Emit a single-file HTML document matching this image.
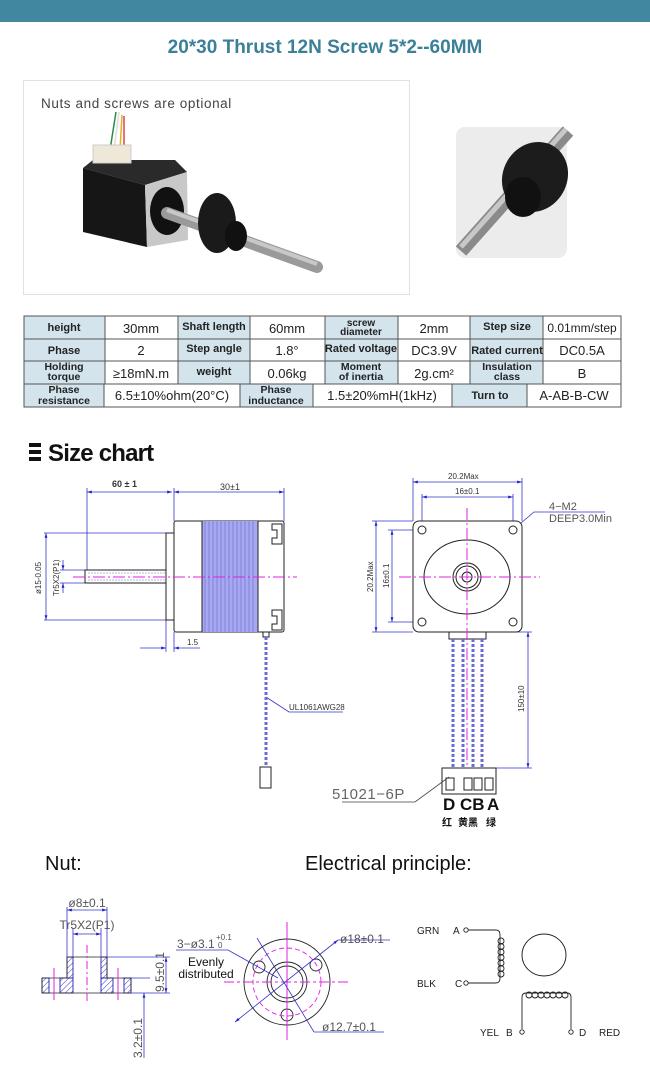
<!DOCTYPE html>
<html><head><meta charset="utf-8"><style>
html,body{margin:0;padding:0;background:#fff;}
svg{display:block;}
text{font-family:"Liberation Sans","Noto Sans CJK SC",sans-serif;}
</style></head><body>
<svg width="650" height="1087" viewBox="0 0 650 1087" xmlns="http://www.w3.org/2000/svg">
<defs>
<pattern id="hat" width="4" height="4" patternUnits="userSpaceOnUse" patternTransform="rotate(45)">
<line x1="0" y1="0" x2="0" y2="4" stroke="#3a3ad0" stroke-width="1"/>
</pattern>
<marker id="ar" viewBox="0 0 10 10" refX="10" refY="5" markerWidth="6" markerHeight="6" orient="auto-start-reverse"><path d="M0,2 L10,5 L0,8z" fill="#2222cc"/></marker>
</defs>
<rect x="0" y="0" width="650" height="22" fill="#41879f"/>
<text x="325" y="53" text-anchor="middle" font-size="19" font-weight="bold" fill="#3b7f98">20*30 Thrust 12N Screw 5*2--60MM</text>

<!-- photo box -->
<rect x="23.5" y="80.5" width="386" height="214" fill="#fff" stroke="#e2e2e2"/>
<text x="41" y="108" font-size="13.5" fill="#444" letter-spacing="0.6">Nuts and screws are optional</text>
<line x1="110" y1="150" x2="116" y2="112" stroke="#2a8a4a" stroke-width="1.5"/>
<line x1="114" y1="150" x2="119" y2="112" stroke="#ddd" stroke-width="1.5"/>
<line x1="120" y1="150" x2="122" y2="115" stroke="#e8b020" stroke-width="1.5"/>
<line x1="124" y1="150" x2="124" y2="116" stroke="#d44" stroke-width="1.5"/>
<polygon points="83,168 93,160 175,160 187,172 145,185" fill="#2a2a2a"/>
<polygon points="83,168 145,185 147,247 83,232" fill="#161616"/>
<polygon points="145,185 187,172 188,240 147,247" fill="#c8c8c8"/>
<ellipse cx="167" cy="211" rx="17" ry="24" fill="#111"/>
<rect x="93" y="145" width="38" height="18" fill="#eee8d8" stroke="#ccc"/>
<line x1="167" y1="213" x2="317" y2="267" stroke="#9a9a9a" stroke-width="12" stroke-linecap="round"/>
<line x1="167" y1="210" x2="317" y2="264" stroke="#c8c8c8" stroke-width="4"/>
<ellipse cx="217" cy="223" rx="19" ry="30" fill="#1a1a1a"/>
<ellipse cx="236" cy="236" rx="11" ry="15" fill="#111"/>

<rect x="456" y="127" width="111" height="131" rx="9" fill="#ececec"/>
<line x1="461" y1="251" x2="568" y2="131" stroke="#8a8a8a" stroke-width="14"/>
<line x1="461" y1="247" x2="566" y2="129" stroke="#c8c8c8" stroke-width="5"/>
<ellipse cx="535" cy="177" rx="32" ry="36" transform="rotate(30 535 177)" fill="#1c1c1c"/>
<ellipse cx="523" cy="197" rx="18" ry="20" fill="#111"/>

<!-- table -->
<g stroke="#555" stroke-width="1">
<rect x="24" y="316" width="597" height="91" fill="#fff"/>
<g fill="#d3e4ec">
<rect x="24" y="316" width="81" height="68"/><rect x="178" y="316" width="72" height="68"/>
<rect x="325" y="316" width="73" height="68"/><rect x="470" y="316" width="73" height="68"/>
<rect x="24" y="384" width="80" height="23"/><rect x="240" y="384" width="73" height="23"/>
<rect x="452" y="384" width="75" height="23"/>
</g>
<line x1="24" y1="339" x2="621" y2="339"/><line x1="24" y1="361" x2="621" y2="361"/><line x1="24" y1="384" x2="621" y2="384"/>
<line x1="178" y1="316" x2="178" y2="384"/><line x1="325" y1="316" x2="325" y2="384"/><line x1="470" y1="316" x2="470" y2="384"/>
</g>
<g font-size="11" font-weight="bold" fill="#222" text-anchor="middle">
<text x="64" y="331">height</text><text x="214" y="330">Shaft length</text><text x="361" y="326" font-size="10">screw</text><text x="361" y="335" font-size="10">diameter</text><text x="507" y="330">Step size</text>
<text x="64" y="354">Phase</text><text x="214" y="352">Step angle</text><text x="361" y="352">Rated voltage</text><text x="507" y="354">Rated current</text>
<text x="64" y="370" font-size="10.5">Holding</text><text x="64" y="380" font-size="10.5">torque</text><text x="214" y="375">weight</text><text x="361" y="370" font-size="10.5">Moment</text><text x="361" y="380" font-size="10.5">of inertia</text><text x="507" y="370" font-size="10.5">Insulation</text><text x="507" y="380" font-size="10.5">class</text>
<text x="64" y="393" font-size="10.5">Phase</text><text x="64" y="404" font-size="10.5">resistance</text><text x="276" y="393" font-size="10.5">Phase</text><text x="276" y="404" font-size="10.5">inductance</text><text x="490" y="399">Turn to</text>
</g>
<g font-size="13" fill="#222" text-anchor="middle">
<text x="141" y="333">30mm</text><text x="287" y="333">60mm</text><text x="434" y="333">2mm</text><text x="582" y="332" font-size="12">0.01mm/step</text>
<text x="141" y="355">2</text><text x="287" y="355">1.8°</text><text x="434" y="355">DC3.9V</text><text x="582" y="355">DC0.5A</text>
<text x="141" y="378">≥18mN.m</text><text x="287" y="378">0.06kg</text><text x="434" y="378">2g.cm²</text><text x="582" y="378">B</text>
<text x="172" y="400">6.5±10%ohm(20°C)</text><text x="382" y="400">1.5±20%mH(1kHz)</text><text x="574" y="400">A-AB-B-CW</text>
</g>

<!-- size chart -->
<rect x="29" y="443" width="12" height="4" fill="#111"/><rect x="29" y="450" width="12" height="4" fill="#111"/><rect x="29" y="457" width="12" height="4" fill="#111"/>
<text x="48" y="461" font-size="24" font-weight="bold" fill="#111" letter-spacing="-0.8">Size chart</text>

<!-- left drawing -->
<g stroke="#3333cc" stroke-width="0.8" fill="none">
<line x1="87" y1="492" x2="172" y2="492" marker-start="url(#ar)" marker-end="url(#ar)"/>
<line x1="174" y1="492" x2="284" y2="492" marker-start="url(#ar)" marker-end="url(#ar)"/>
<line x1="87" y1="488" x2="87" y2="583"/><line x1="174" y1="488" x2="174" y2="521"/><line x1="284" y1="488" x2="284" y2="521"/>
<line x1="44" y1="533" x2="166" y2="533"/><line x1="44" y1="620" x2="166" y2="620"/>
<line x1="46" y1="533" x2="46" y2="620" marker-start="url(#ar)" marker-end="url(#ar)"/>
<line x1="60" y1="570" x2="85" y2="570"/><line x1="60" y1="583" x2="85" y2="583"/>
<line x1="63" y1="560" x2="63" y2="570" marker-end="url(#ar)"/><line x1="63" y1="593" x2="63" y2="583" marker-end="url(#ar)"/>
<line x1="166" y1="620" x2="166" y2="652"/><line x1="174" y1="632" x2="174" y2="652"/>
<line x1="140" y1="648" x2="166" y2="648" marker-end="url(#ar)"/><line x1="174" y1="648" x2="200" y2="648" marker-start="url(#ar)"/>
<polyline points="266,697 289,712 343,712"/>
</g>
<g fill="#fff" stroke="#222" stroke-width="1">
<rect x="166" y="533" width="8" height="87"/>
<rect x="174" y="521" width="110" height="111" rx="2"/>
<rect x="85" y="570" width="81" height="13"/>
<rect x="260" y="767" width="11" height="21"/>
</g>
<rect x="202" y="521" width="56" height="111" fill="#a8a8f0"/>
<g stroke="#6a6ad8" stroke-width="0.6">
<line x1="205" y1="521" x2="205" y2="632"/><line x1="209" y1="521" x2="209" y2="632"/><line x1="213" y1="521" x2="213" y2="632"/><line x1="217" y1="521" x2="217" y2="632"/><line x1="221" y1="521" x2="221" y2="632"/><line x1="225" y1="521" x2="225" y2="632"/><line x1="229" y1="521" x2="229" y2="632"/><line x1="233" y1="521" x2="233" y2="632"/><line x1="237" y1="521" x2="237" y2="632"/><line x1="241" y1="521" x2="241" y2="632"/><line x1="245" y1="521" x2="245" y2="632"/><line x1="249" y1="521" x2="249" y2="632"/><line x1="253" y1="521" x2="253" y2="632"/>
<line x1="88" y1="573" x2="165" y2="573" stroke-dasharray="2 1"/><line x1="88" y1="580" x2="165" y2="580" stroke-dasharray="2 1"/>
</g>
<g stroke="#222" fill="none" stroke-width="1">
<line x1="258" y1="521" x2="258" y2="632"/>
<line x1="202" y1="521" x2="202" y2="632"/>
<path d="M272,524 h10 v20 h-10 v-6 h5 v-8 h-5z"/>
<path d="M272,610 h10 v20 h-10 v-6 h5 v-8 h-5z"/>
<rect x="263" y="632" width="6" height="5"/>
</g>
<line x1="266" y1="637" x2="266" y2="767" stroke="#6b6bd8" stroke-width="3" stroke-dasharray="3 2"/>
<line x1="73" y1="577" x2="297" y2="577" stroke="#e020e0" stroke-width="1" stroke-dasharray="12 3 2 3"/>
<g font-size="8" fill="#333">
<text x="112" y="487" font-weight="bold" font-size="9">60 ± 1</text>
<text x="220" y="490" font-size="9">30±1</text>
<text x="187" y="645">1.5</text>
<text x="289" y="710">UL1061AWG28</text>
<text transform="translate(41,594) rotate(-90)">ø15-0.05</text>
<text transform="translate(59,596) rotate(-90)">Tr5X2(P1)</text>
</g>

<!-- right drawing -->
<g stroke="#3333cc" stroke-width="0.8" fill="none">
<line x1="413" y1="482" x2="522" y2="482" marker-start="url(#ar)" marker-end="url(#ar)"/>
<line x1="422" y1="497" x2="513" y2="497" marker-start="url(#ar)" marker-end="url(#ar)"/>
<line x1="413" y1="478" x2="413" y2="521"/><line x1="522" y1="478" x2="522" y2="521"/>
<line x1="422" y1="494" x2="422" y2="530"/><line x1="513" y1="494" x2="513" y2="530"/>
<line x1="372" y1="521" x2="413" y2="521"/><line x1="372" y1="632" x2="413" y2="632"/>
<line x1="376" y1="521" x2="376" y2="632" marker-start="url(#ar)" marker-end="url(#ar)"/>
<line x1="388" y1="530" x2="422" y2="530"/><line x1="388" y1="622" x2="422" y2="622"/>
<line x1="392" y1="530" x2="392" y2="622" marker-start="url(#ar)" marker-end="url(#ar)"/>
<line x1="490" y1="632" x2="532" y2="632"/><line x1="496" y1="768" x2="532" y2="768"/>
<line x1="528" y1="632" x2="528" y2="768" marker-start="url(#ar)" marker-end="url(#ar)"/>
<polyline points="514,529 534,512 605,512"/>
</g>
<g stroke="#222" stroke-width="1" fill="none">
<rect x="413" y="521" width="109" height="111" rx="6" fill="#fff"/>
<circle cx="422" cy="530" r="4"/><circle cx="513" cy="530" r="4"/><circle cx="422" cy="622" r="4"/><circle cx="513" cy="622" r="4"/>
<ellipse cx="467" cy="577" rx="43" ry="37"/>
<circle cx="467" cy="577" r="14"/><circle cx="467" cy="577" r="11"/><circle cx="467" cy="577" r="5"/>
<rect x="449" y="632" width="37" height="7"/>
<rect x="442" y="768" width="54" height="26"/>
<rect x="446" y="778" width="8" height="12"/><rect x="464" y="778" width="8" height="12"/><rect x="474" y="778" width="8" height="12"/><rect x="485" y="778" width="8" height="12"/>
</g>
<g stroke="#6b6bd8" stroke-width="3" stroke-dasharray="3 2">
<line x1="453" y1="639" x2="453" y2="768"/><line x1="463" y1="639" x2="463" y2="768"/><line x1="473" y1="639" x2="473" y2="768"/><line x1="482" y1="639" x2="482" y2="768"/>
</g>
<g stroke="#e020e0" stroke-width="1" stroke-dasharray="12 3 2 3">
<line x1="399" y1="577" x2="540" y2="577"/><line x1="467" y1="508" x2="467" y2="767"/>
</g>
<polyline points="342,802 415,802 449,777" stroke="#444" stroke-width="0.8" fill="none"/>
<g fill="#333">
<text x="448" y="479" font-size="8">20.2Max</text>
<text x="455" y="494" font-size="8">16±0.1</text>
<text transform="translate(373,592) rotate(-90)" font-size="8">20.2Max</text>
<text transform="translate(389,588) rotate(-90)" font-size="8">16±0.1</text>
<text transform="translate(524,712) rotate(-90)" font-size="8">150±10</text>
<text x="549" y="510" font-size="11" fill="#555">4−M2</text>
<text x="549" y="522" font-size="11" fill="#555">DEEP3.0Min</text>
<text x="332" y="799" font-size="15" fill="#666" letter-spacing="0.5">51021−6P</text>
<text x="443" y="810" font-size="17" font-weight="bold" font-family="Liberation Serif, serif" fill="#111">D</text>
<text x="460" y="810" font-size="17" font-weight="bold" font-family="Liberation Serif, serif" fill="#111">CB</text>
<text x="487" y="810" font-size="17" font-weight="bold" font-family="Liberation Serif, serif" fill="#111">A</text>
<text x="442" y="826" font-size="10" font-weight="bold" fill="#111">红</text>
<text x="458" y="826" font-size="10" font-weight="bold" fill="#111">黄黑</text>
<text x="486" y="826" font-size="10" font-weight="bold" fill="#111">绿</text>
</g>

<!-- Nut -->
<text x="45" y="870" font-size="20" fill="#111">Nut:</text>
<text x="305" y="870" font-size="20" fill="#111">Electrical principle:</text>
<g stroke="#2222aa" stroke-width="0.9">
<rect x="42" y="978" width="7" height="15" fill="url(#hat)"/>
<rect x="60" y="978" width="13" height="15" fill="url(#hat)"/>
<rect x="67" y="957" width="6" height="21" fill="url(#hat)"/>
<rect x="101" y="957" width="6" height="21" fill="url(#hat)"/>
<rect x="101" y="978" width="12" height="15" fill="url(#hat)"/>
<rect x="124" y="978" width="7" height="15" fill="url(#hat)"/>
</g>
<g stroke="#222" stroke-width="0.8" fill="none">
<polyline points="42,978 67,978 67,957 107,957 107,978 131,978 131,993 42,993 42,978"/>
</g>
<g stroke="#e020e0" stroke-width="1">
<line x1="54" y1="968" x2="54" y2="1000"/><line x1="118" y1="968" x2="118" y2="1000"/>
<line x1="87" y1="945" x2="87" y2="1003" stroke-dasharray="8 3 2 3"/>
</g>
<g stroke="#3333cc" stroke-width="0.8" fill="none">
<line x1="67" y1="907" x2="67" y2="957"/><line x1="107" y1="907" x2="107" y2="957"/>
<line x1="67" y1="910" x2="107" y2="910" marker-start="url(#ar)" marker-end="url(#ar)"/>
<line x1="73" y1="928" x2="73" y2="957"/><line x1="101" y1="928" x2="101" y2="957"/>
<line x1="73" y1="934" x2="101" y2="934" marker-start="url(#ar)" marker-end="url(#ar)"/>
<line x1="107" y1="957" x2="170" y2="957"/><line x1="131" y1="993" x2="170" y2="993"/>
<line x1="166" y1="957" x2="166" y2="993" marker-start="url(#ar)" marker-end="url(#ar)"/>
<line x1="131" y1="978" x2="150" y2="978"/>
<line x1="144" y1="993" x2="144" y2="1058" marker-start="url(#ar)"/>
</g>
<g fill="#555" font-size="12">
<text x="87" y="907" text-anchor="middle">ø8±0.1</text>
<text x="87" y="929" text-anchor="middle">Tr5X2(P1)</text>
<text transform="translate(164,992) rotate(-90)">9.5±0.1</text>
<text transform="translate(142,1058) rotate(-90)">3.2±0.1</text>
</g>

<!-- nut front -->
<g stroke="#222" stroke-width="0.9" fill="none">
<circle cx="287" cy="982" r="43"/>
<circle cx="287" cy="982" r="20"/><circle cx="287" cy="982" r="16"/>
<circle cx="259" cy="967" r="6"/><circle cx="316" cy="965" r="6"/><circle cx="287" cy="1015" r="6"/>
</g>
<circle cx="287" cy="982" r="34" stroke="#e020e0" stroke-width="0.9" fill="none" stroke-dasharray="5 3"/>
<g stroke="#e020e0" stroke-width="1">
<line x1="287" y1="922" x2="287" y2="1040"/><line x1="224" y1="982" x2="350" y2="982" stroke-dasharray="10 3 3 3"/>
</g>
<g stroke="#3333cc" stroke-width="0.8" fill="none">
<line x1="235" y1="1022" x2="338" y2="940" marker-start="url(#ar)" marker-end="url(#ar)"/>
<polyline points="338,940 390,940"/>
<line x1="257" y1="938" x2="314" y2="1032"/><polyline points="314,1032 384,1032"/>
<polyline points="176,950 228,950 278,978"/>
</g>
<g fill="#555" font-size="12">
<text x="340" y="943">ø18±0.1</text>
<text x="322" y="1031">ø12.7±0.1</text>
<text x="177" y="948">3−ø3.1</text>
<text x="216" y="940" font-size="8">+0.1</text>
<text x="218" y="948" font-size="8">0</text>
</g>
<text x="206" y="966" font-size="12" fill="#111" text-anchor="middle">Evenly</text>
<text x="206" y="978" font-size="12" fill="#111" text-anchor="middle">distributed</text>

<!-- electrical -->
<g fill="#222" font-size="10">
<text x="417" y="934">GRN</text><text x="453" y="934">A</text>
<text x="417" y="987">BLK</text><text x="455" y="987">C</text>
<text x="480" y="1036">YEL</text><text x="506" y="1036">B</text>
<text x="579" y="1036">D</text><text x="599" y="1036">RED</text>
</g>
<g stroke="#222" stroke-width="0.9" fill="none">
<circle cx="466" cy="930" r="2.2"/><circle cx="466" cy="983" r="2.2"/>
<path d="M468,930 H496 Q500,930 500,935 V978 Q500,983 496,983 H468"/>
<circle cx="501" cy="941" r="3"/><circle cx="501" cy="946.5" r="3"/><circle cx="501" cy="952" r="3"/><circle cx="501" cy="957.5" r="3"/><circle cx="501" cy="963" r="3"/><circle cx="501" cy="968.5" r="3"/><circle cx="501" cy="974" r="3"/>
<ellipse cx="544" cy="955" rx="22" ry="21"/>
<path d="M522,1029 V997 Q522,993 526,993 H567 Q571,993 571,997 V1029"/>
<circle cx="529" cy="995" r="3"/><circle cx="535" cy="995" r="3"/><circle cx="541" cy="995" r="3"/><circle cx="547" cy="995" r="3"/><circle cx="553" cy="995" r="3"/><circle cx="559" cy="995" r="3"/><circle cx="565" cy="995" r="3"/>
<circle cx="522" cy="1032" r="2.2"/><circle cx="571" cy="1032" r="2.2"/>
</g>
</svg>
</body></html>
